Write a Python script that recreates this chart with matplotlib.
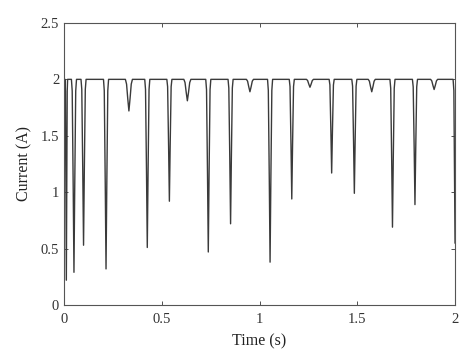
import numpy as np
import matplotlib
matplotlib.use("Agg")
import matplotlib.pyplot as plt

plt.rcParams['font.family'] = ['Liberation Serif', 'DejaVu Serif']

# dips: time (s) and lowest current (A)
dip_time = [0.012, 0.051, 0.100, 0.215, 0.332, 0.426, 0.539, 0.631, 0.738,
            0.852, 0.951, 1.054, 1.165, 1.258, 1.369, 1.485, 1.574, 1.680,
            1.795, 1.893]
dip_min = [0.22, 0.29, 0.53, 0.32, 1.72, 0.51, 0.92, 1.81, 0.47,
           0.72, 1.89, 0.38, 0.94, 1.93, 1.17, 0.99, 1.89, 0.69,
           0.89, 1.91]
level = 2.0
start_current = 0.0
end_current = 0.55

xticks = [0, 0.5, 1, 1.5, 2]
xtick_labels = ['0', '0.5', '1', '1.5', '2']
yticks = [0, 0.5, 1, 1.5, 2, 2.5]
ytick_labels = ['0', '0.5', '1', '1.5', '2', '2.5']

# notch shapes (deep dips narrow, shallow dips wider V)
deep_dt = np.array([-0.013, -0.009, -0.004, 0, 0.004, 0.009, 0.013])
deep_fr = np.array([0, 0.06, 0.55, 1, 0.55, 0.06, 0])
small_dt = np.array([-0.018, -0.012, -0.006, 0, 0.006, 0.012, 0.018])
small_fr = np.array([0, 0.15, 0.6, 1, 0.6, 0.15, 0])

t = [0.0, 0.003]
cur = [start_current, level]
for tc, m in zip(dip_time, dip_min):
    depth = level - m
    dt, fr = (small_dt, small_fr) if depth < 0.4 else (deep_dt, deep_fr)
    if tc + dt[0] <= t[-1]:
        dt = dt * 0.5
    t.extend(tc + dt)
    cur.extend(level - fr * depth)
t.extend([1.990, 1.994, 2.0])
cur.extend([level, 1.9, end_current])

fig = plt.figure(figsize=(4.74, 3.64), dpi=100)
ax = fig.add_axes([0.135, 0.162, 0.825, 0.775])
ax.plot(t, cur, color='#3a3a3a', lw=1.0)
ax.set_xlim(0, 2)
ax.set_ylim(0, 2.5)
ax.set_xticks(xticks)
ax.set_xticklabels(xtick_labels)
ax.set_yticks(yticks)
ax.set_yticklabels(ytick_labels)
ax.tick_params(direction='in', length=3, width=0.6, labelsize=10.5,
               top=True, right=True, colors='#333333')
ax.tick_params(axis='x', pad=6)
for s in ax.spines.values():
    s.set_color('#555555')
    s.set_linewidth(0.8)
ax.set_xlabel('Time (s)', fontsize=11.5, color='#222222', labelpad=5)
ax.set_ylabel('Current (A)', fontsize=11.5, color='#222222', labelpad=6)
fig.savefig('out.png', dpi=100)
